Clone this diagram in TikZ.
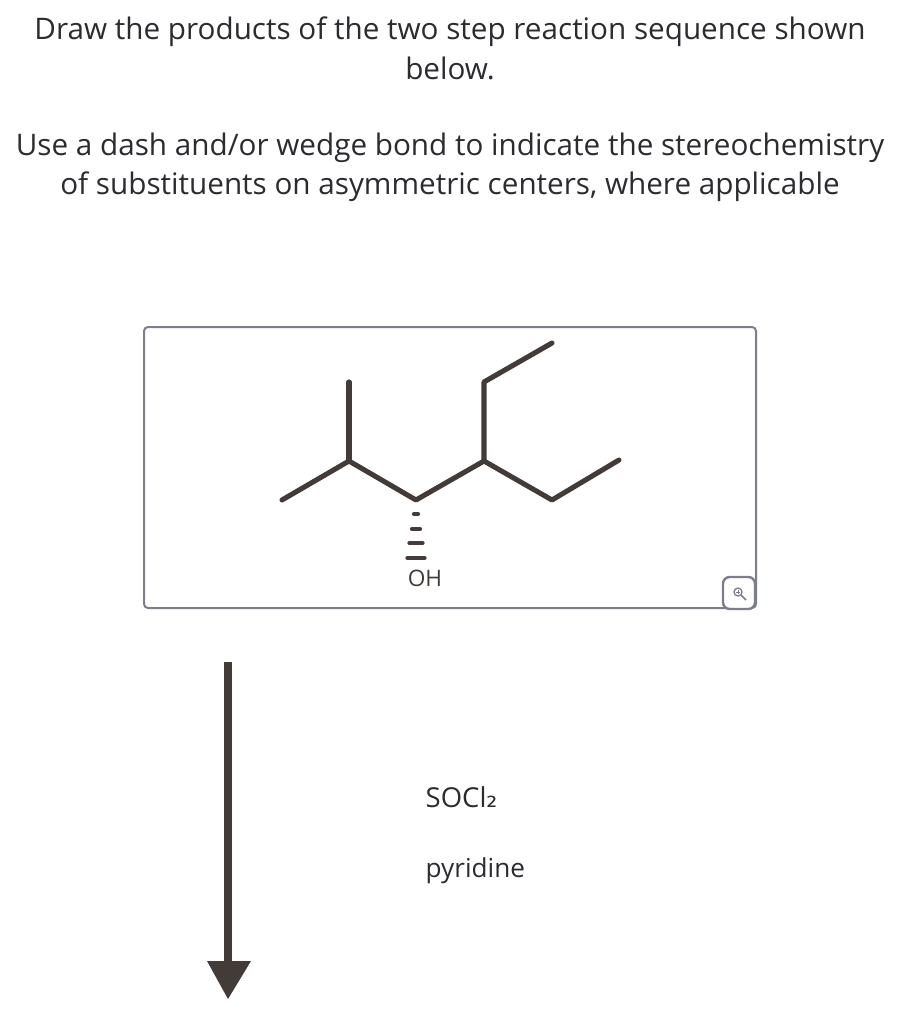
\documentclass[tikz,border=0pt]{standalone}
\usepackage{fontspec}
\setmainfont{Open Sans}
\newfontfamily\subfont{DejaVu Sans}
\definecolor{bondcol}{HTML}{433B38}
\definecolor{framecol}{HTML}{7C7E8E}
\definecolor{textcol}{HTML}{2B2B30}
\tikzset{
    headline/.style={anchor=center,text=textcol,font=\fontsize{22.25}{26}\selectfont},
    reagent/.style={anchor=west,text=textcol,font=\fontsize{19.6}{24}\selectfont},
    bond/.style={line width=3.8pt,draw=bondcol,line cap=round,line join=round},
    hashbar/.style={line width=3.2pt,draw=bondcol,line cap=round}
}
\begin{document}
\begin{tikzpicture}[x=0.75pt,y=-0.75pt]
        \useasboundingbox (0,0) rectangle (914,1024);
        %% Question text
        \node[headline] (lineA) at (450,32) {Draw the products of the two step reaction sequence shown};
        \node[headline] (lineB) at (450,68) {below.};
        \node[headline] (lineC) at (450,148) {Use a dash and/or wedge bond to indicate the stereochemistry};
        \node[headline] (lineD) at (450,187) {of substituents on asymmetric centers, where applicable};
        %% Frame with zoom button
        \draw[framecol,line width=1.5pt,rounded corners=3pt] (144,327) rectangle (756,608);
        \draw[framecol,line width=1.8pt,rounded corners=5pt,fill=white] (723,577) rectangle (755,609);
        \draw[framecol,line width=1pt] (738,592) circle (4);
        \draw[framecol,line width=0.7pt] (736,592) -- (740,592) (738,590) -- (738,594);
        \draw[framecol,line width=1.3pt] (741,595) -- (746,600);
        %% Molecule
        \coordinate (c1) at (282,500);
        \coordinate (c2) at (349,461);
        \coordinate (c3) at (349,382);
        \coordinate (c4) at (416,500);
        \coordinate (c5) at (484,461);
        \coordinate (c6) at (484,382);
        \coordinate (c7) at (552,343);
        \coordinate (c8) at (552,500);
        \coordinate (c9) at (619,460);
        \draw[bond] (c1) -- (c2) -- (c4) -- (c5) -- (c8) -- (c9);
        \draw[bond] (c2) -- (c3);
        \draw[bond] (c5) -- (c6) -- (c7);
        %% Hashed bond to OH
        \foreach \y/\w in {514/2,529/4,543/6.5,558/8.5}
            \draw[hashbar] (416-\w,\y) -- (416+\w,\y);
        \node[text=bondcol,font=\fontsize{17}{20}\selectfont] (oh) at (425,578) {OH};
        %% Reaction arrow
        \coordinate (top) at (228,662);
        \coordinate (tip) at (228,999);
        \draw[bondcol,line width=6pt] (top) -- (228,962);
        \fill[bondcol] (207,961) -- (251,961) -- (tip) -- cycle;
        %% Reagents
        \node[reagent,font=\fontsize{20.6}{24}\selectfont] (socl) at (421,797) {SOCl{\subfont\fontsize{20.6}{24}\selectfont ₂}};
        \node[reagent] (pyr) at (421,871) {pyridine};
\end{tikzpicture}
\end{document}
